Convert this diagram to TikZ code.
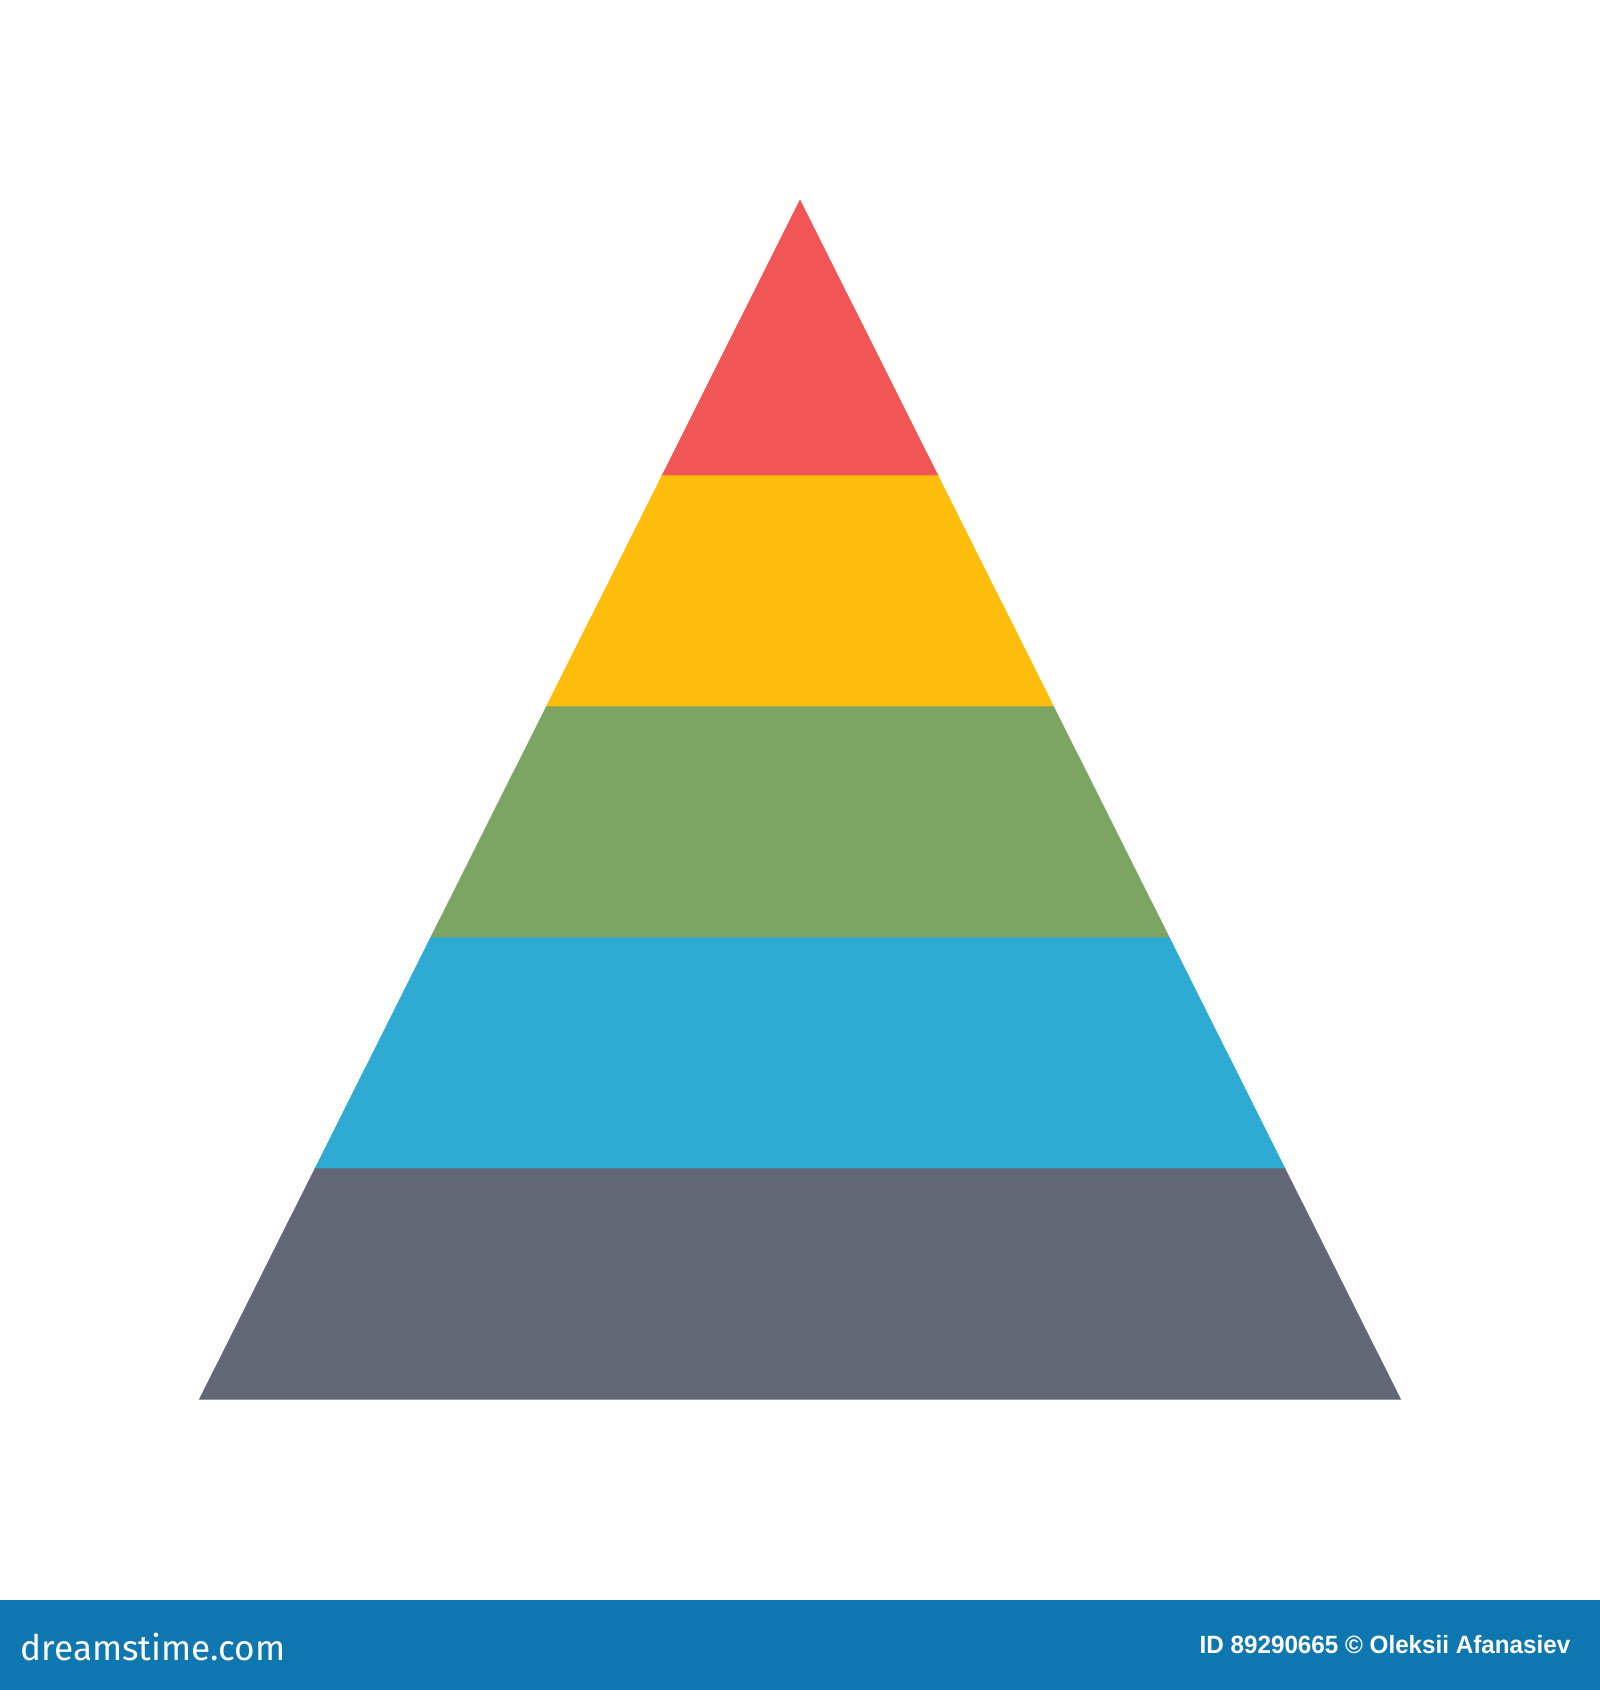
\documentclass[tikz,border=0pt]{standalone}
\usepackage{fontspec}
\setmainfont{Liberation Sans}
\newfontfamily\sitefont{Fira Sans}
\usetikzlibrary{calc,positioning}

\definecolor{pyrRed}{HTML}{F25555}
\definecolor{pyrYellow}{HTML}{FEBD0A}
\definecolor{pyrGreen}{HTML}{7CA462}
\definecolor{pyrBlue}{HTML}{2EAAD3}
\definecolor{pyrGray}{HTML}{616775}
\definecolor{barBlue}{HTML}{0F77AF}

\tikzstyle{band} = [line width=0.4pt, line join=miter]
\tikzstyle{bartext} = [text=white, inner sep=0pt]

\begin{document}
\begin{tikzpicture}[x=0.01cm,y=-0.01cm]
    \useasboundingbox (0,0) rectangle (1600,1690);

    \coordinate (apex) at (800,201);
    \coordinate (base_left) at (200,1399);
    \coordinate (base_right) at (1400,1399);

    % pyramid bands, from the top down
    \foreach \top/\bot/\col in {0/0.2295/pyrRed, 0.2295/0.4224/pyrYellow, 0.4224/0.6152/pyrGreen, 0.6152/0.8080/pyrBlue, 0.8080/1/pyrGray}
    {
        \path[band, fill=\col, draw=\col]
            ($(apex)!\top!(base_left)$) -- ($(apex)!\bot!(base_left)$)
            -- ($(apex)!\bot!(base_right)$) -- ($(apex)!\top!(base_right)$) -- cycle;
    };

    % credit bar
    \path[fill=barBlue] (0,1600) rectangle (1600,1690);
    \node[bartext, anchor=west] (site) at (20,1647) {\sitefont\fontsize{10pt}{12pt}\selectfont dreamstime.com};
    \node[bartext, anchor=east] (credit) at (1571,1645) {\bfseries\fontsize{7.1pt}{9pt}\selectfont\scalebox{0.97}[1]{ID 89290665 © Oleksii Afanasiev}};
\end{tikzpicture}
\end{document}
